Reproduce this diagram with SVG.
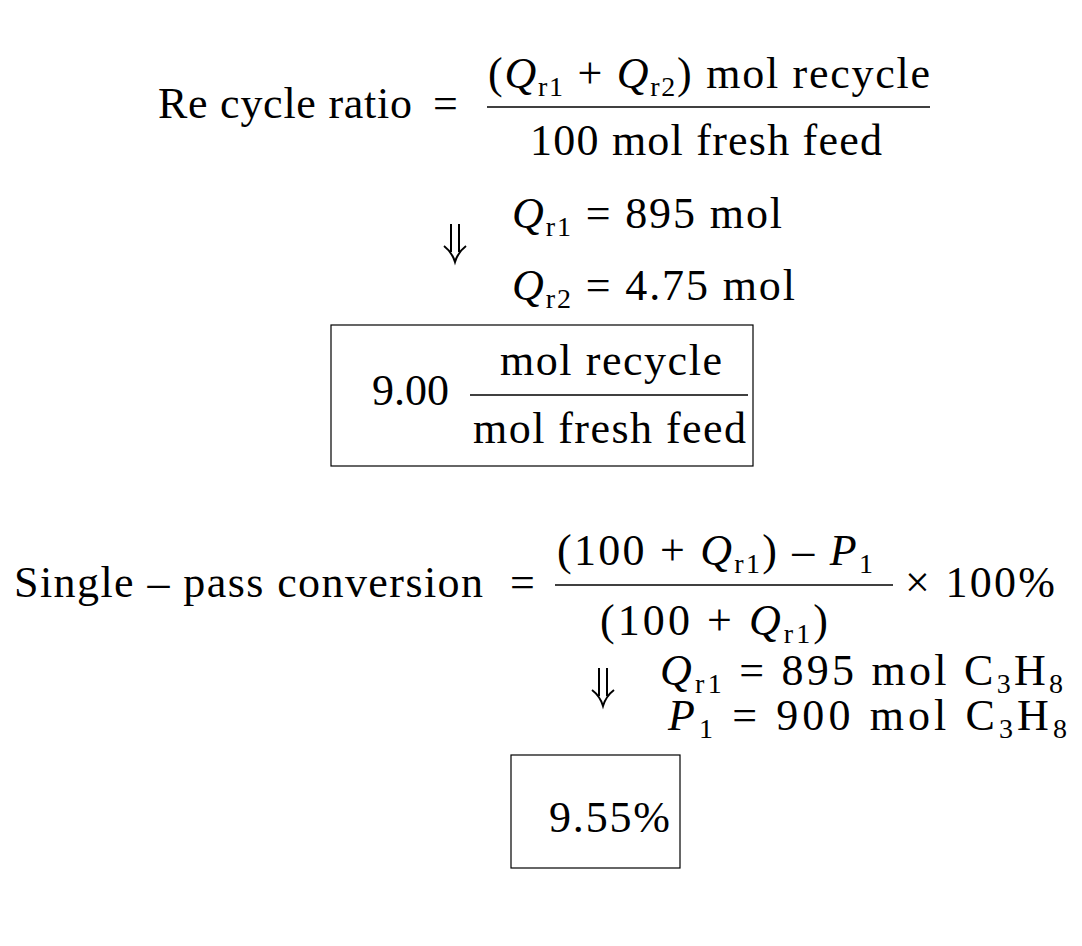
<svg xmlns="http://www.w3.org/2000/svg" width="1082" height="946" viewBox="0 0 1082 946">
<style>
text{font-family:"Liberation Serif","Times New Roman",serif;font-size:44px;fill:#000}
.s{font-size:28px}
.i{font-style:italic}
.ln{stroke:#000;stroke-width:1.5}
.ar{fill:none;stroke:#000;stroke-width:2}
.bx{fill:none;stroke:#000;stroke-width:1.2}
</style>
<defs>
<path id="dar" class="ar" d="M-4,-20 V8 M4,-20 V8 M-11,2 Q-3,8 0,18 Q3,8 11,2"/>
</defs>
<rect width="1082" height="946" fill="#fff"/>
<g id="recycle">
<text x="158" y="118" textLength="254" lengthAdjust="spacing">Re cycle ratio</text>
<text x="433" y="118">=</text>
<text x="488" y="88" textLength="442" lengthAdjust="spacing">(<tspan class="i">Q</tspan><tspan class="s" dy="8">r1</tspan><tspan dy="-8"> + </tspan><tspan class="i">Q</tspan><tspan class="s" dy="8">r2</tspan><tspan dy="-8">) mol recycle</tspan></text>
<line class="ln" x1="487" y1="107" x2="930" y2="107"/>
<text x="530" y="155" textLength="352" lengthAdjust="spacing">100 mol fresh feed</text>
<use href="#dar" x="455" y="244"/>
<text x="512" y="228" textLength="270" lengthAdjust="spacing"><tspan class="i">Q</tspan><tspan class="s" dy="8">r1</tspan><tspan dy="-8"> = 895 mol</tspan></text>
<text x="512" y="300" textLength="283" lengthAdjust="spacing"><tspan class="i">Q</tspan><tspan class="s" dy="8">r2</tspan><tspan dy="-8"> = 4.75 mol</tspan></text>
</g>
<g id="result1">
<rect class="bx" x="331" y="325" width="422" height="141"/>
<text x="372" y="405">9.00</text>
<line class="ln" x1="470" y1="395" x2="748" y2="395"/>
<text x="500" y="375" textLength="222" lengthAdjust="spacing">mol recycle</text>
<text x="473" y="443" textLength="273" lengthAdjust="spacing">mol fresh feed</text>
</g>
<g id="conversion">
<text x="14" y="597" textLength="469" lengthAdjust="spacing">Single – pass conversion</text>
<text x="510" y="597">=</text>
<text x="557" y="565" textLength="316" lengthAdjust="spacing">(100 + <tspan class="i">Q</tspan><tspan class="s" dy="8">r1</tspan><tspan dy="-8">) – </tspan><tspan class="i">P</tspan><tspan class="s" dy="8">1</tspan></text>
<line class="ln" x1="555" y1="585" x2="893" y2="585"/>
<text x="905" y="597" textLength="150" lengthAdjust="spacing">× 100%</text>
<text x="600" y="635" textLength="228" lengthAdjust="spacing">(100 + <tspan class="i">Q</tspan><tspan class="s" dy="8">r1</tspan><tspan dy="-8">)</tspan></text>
<use href="#dar" x="603" y="688"/>
<text x="660" y="685" textLength="403" lengthAdjust="spacing"><tspan class="i">Q</tspan><tspan class="s" dy="8">r1</tspan><tspan dy="-8">  = 895 mol C</tspan><tspan class="s" dy="8">3</tspan><tspan dy="-8">H</tspan><tspan class="s" dy="8">8</tspan></text>
<text x="668" y="730" textLength="399" lengthAdjust="spacing"><tspan class="i">P</tspan><tspan class="s" dy="8">1</tspan><tspan dy="-8">    = 900 mol C</tspan><tspan class="s" dy="8">3</tspan><tspan dy="-8">H</tspan><tspan class="s" dy="8">8</tspan></text>
</g>
<g id="result2">
<rect class="bx" x="511" y="755" width="169" height="113"/>
<text x="549" y="832" textLength="121" lengthAdjust="spacing">9.55%</text>
</g>
</svg>
